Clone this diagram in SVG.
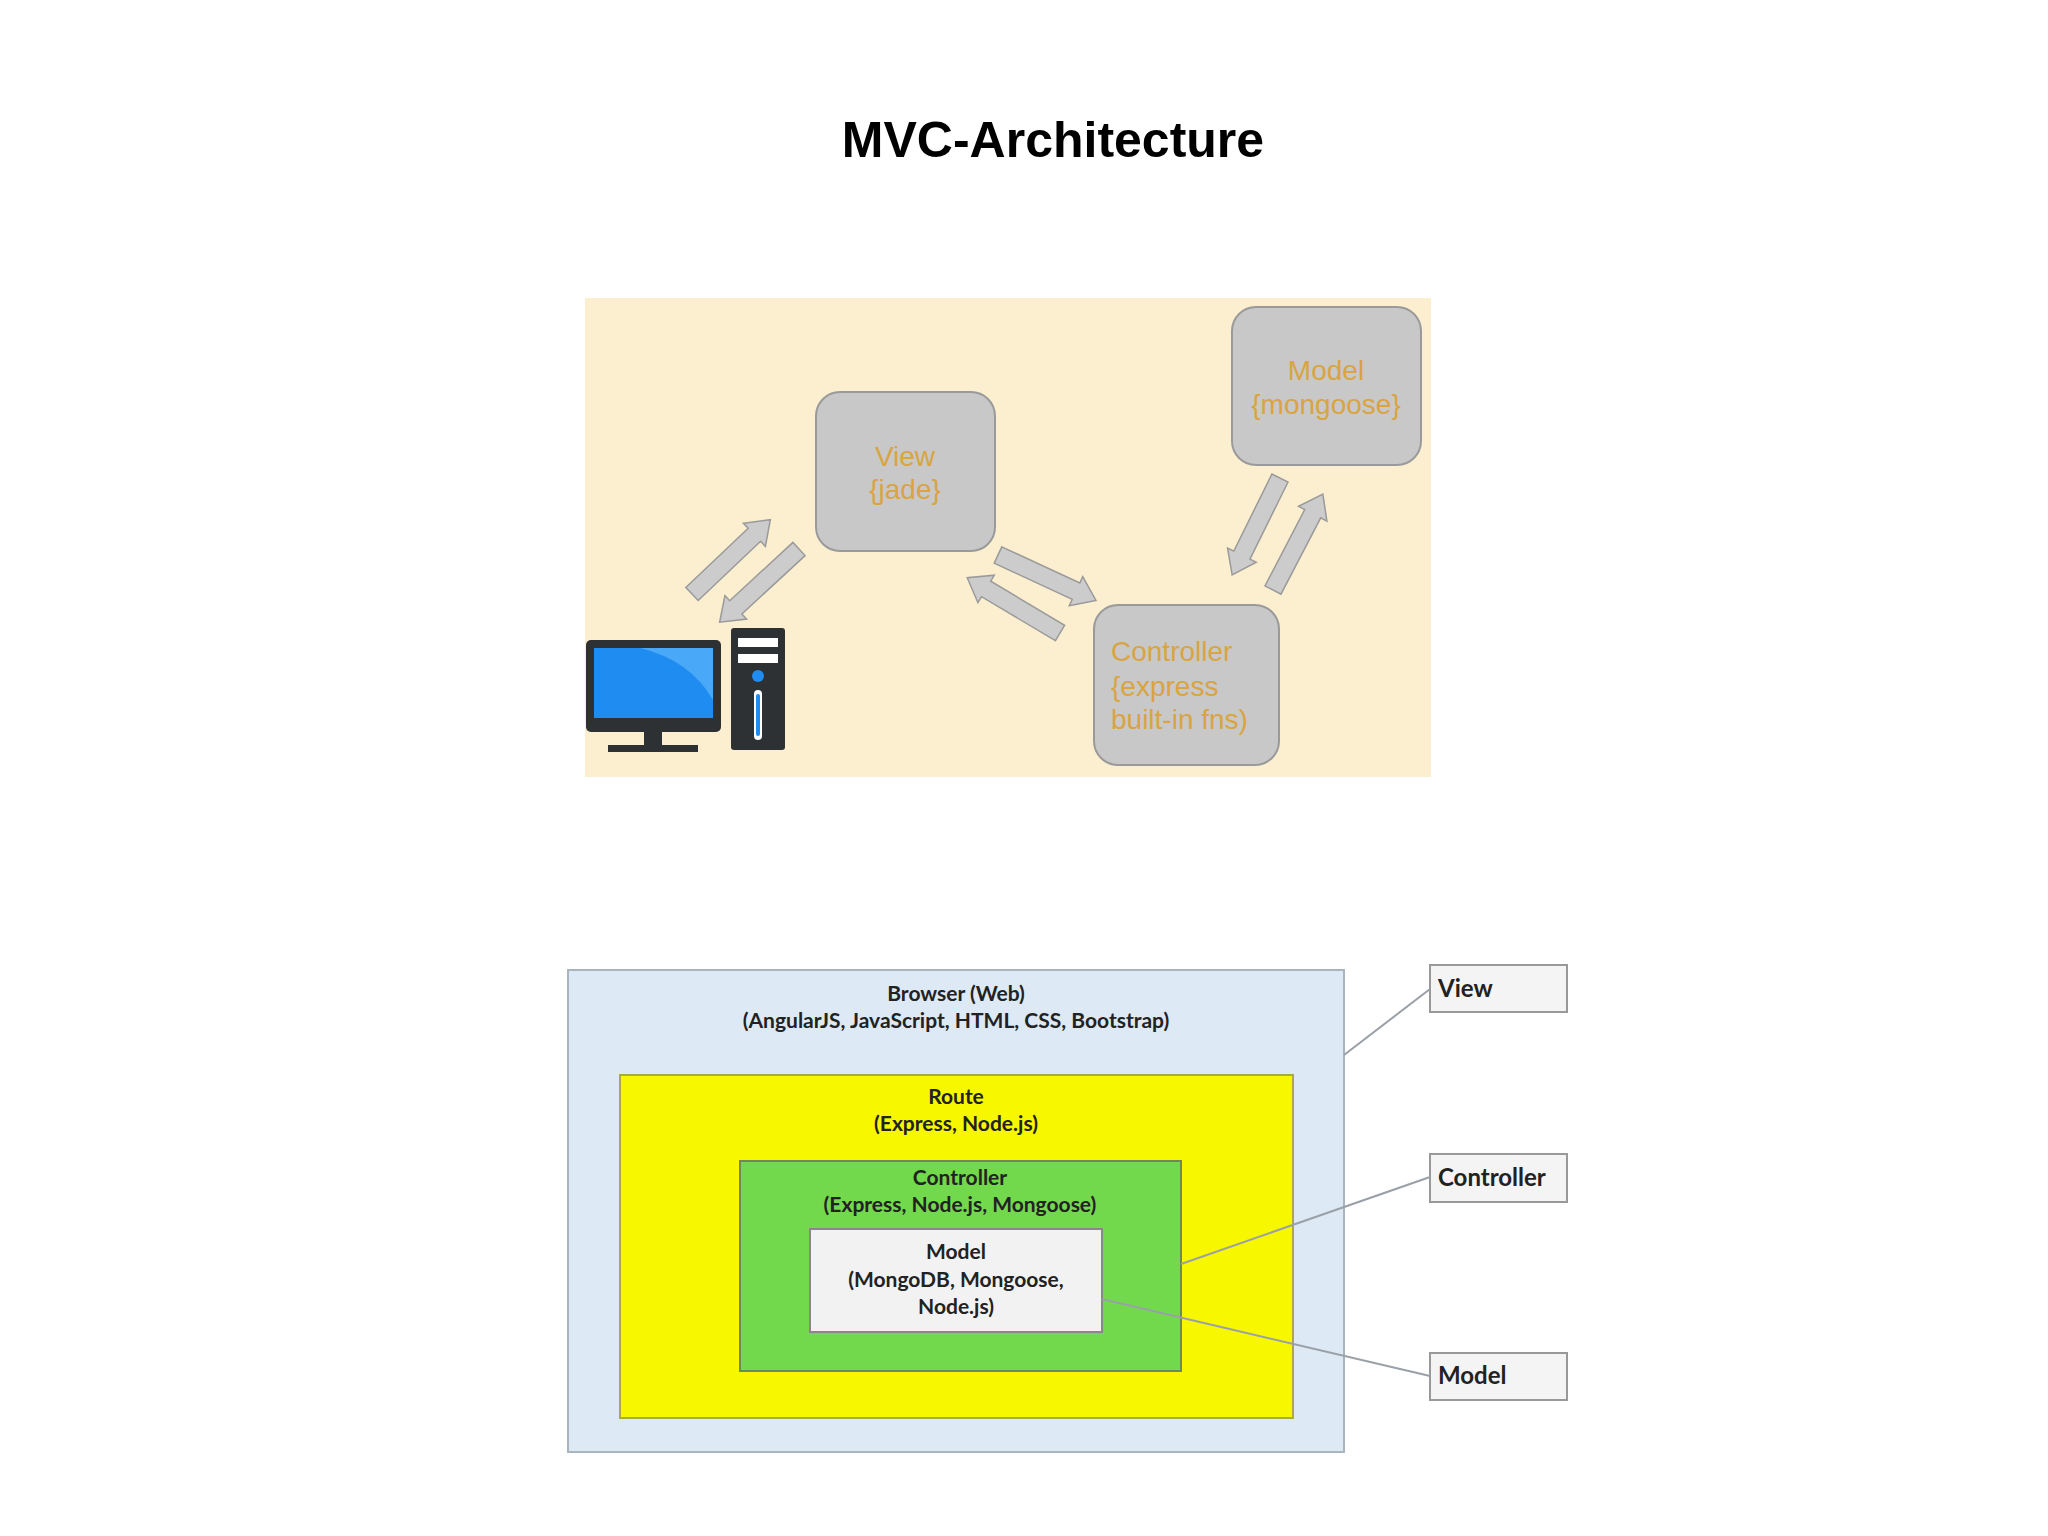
<svg xmlns="http://www.w3.org/2000/svg" width="2048" height="1536" viewBox="0 0 2048 1536">
<style>
.node{fill:#c8c8c8;stroke:#9a9a9a;stroke-width:2}
.ot{font-family:"Liberation Sans",Arial,sans-serif;font-size:28px;fill:#d9a441}
.bt{font-family:Lato,"Liberation Sans",sans-serif;font-weight:bold;font-size:21px;fill:#222;text-anchor:middle}
.lb{fill:#f4f4f4;stroke:#999;stroke-width:2}
.lt{font-family:Lato,"Liberation Sans",sans-serif;font-weight:bold;font-size:24px;fill:#222}
.ar{fill:#cccccc;stroke:#9a9a9a;stroke-width:1.5}
.ln{stroke:#9aa0a8;stroke-width:2;fill:none}
</style>
<defs>
<path id="barrow" class="ar" d="M0,-9 L86,-9 L86,-16 L108,0 L86,16 L86,9 L0,9 Z"/>
</defs>
<rect width="2048" height="1536" fill="#fff"/>
<text x="1053" y="157" text-anchor="middle" font-family="Liberation Sans,Arial,sans-serif" font-weight="bold" font-size="50">MVC-Architecture</text>

<g id="top-panel">
<rect x="585" y="298" width="846" height="479" fill="#fcefcf"/>
</g>
<g id="view"><rect class="node" x="816" y="392" width="179" height="159" rx="24"/>
<text class="ot" x="905" y="466" text-anchor="middle">View</text><text class="ot" x="905" y="499" text-anchor="middle">{jade}</text></g>
<g id="model"><rect class="node" x="1232" y="307" width="189" height="158" rx="24"/>
<text class="ot" x="1326" y="380" text-anchor="middle">Model</text><text class="ot" x="1326" y="414" text-anchor="middle">{mongoose}</text></g>
<g id="controller"><rect class="node" x="1094" y="605" width="185" height="160" rx="24"/>
<text class="ot" x="1111" y="661">Controller</text><text class="ot" x="1111" y="696">{express</text><text class="ot" x="1111" y="729">built-in fns)</text></g>
<g id="computer">
<rect x="586" y="640" width="135" height="92" rx="5" fill="#2e3133"/>
<rect x="594" y="648" width="119" height="70" fill="#1e8cf0"/>
<path d="M640,648 L713,648 L713,700 Q690,660 640,648 Z" fill="#4aa8f8"/>
<circle cx="653" cy="736" r="4" fill="#1e8cf0"/>
<rect x="644" y="732" width="18" height="14" fill="#2e3133"/>
<rect x="608" y="745" width="90" height="7" fill="#2e3133"/>
<rect x="731" y="628" width="54" height="122" rx="3" fill="#2e3133"/>
<rect x="738" y="638" width="40" height="9" fill="#fff"/>
<rect x="738" y="654" width="40" height="9" fill="#fff"/>
<circle cx="758" cy="676" r="6" fill="#1e8cf0"/>
<rect x="754" y="690" width="8" height="50" rx="4" fill="#fff"/>
<rect x="756" y="694" width="4" height="42" rx="2" fill="#1e8cf0"/>
</g>
<g id="connectors-top">
<use href="#barrow" transform="translate(692,594) rotate(-43.5)"/>
<use href="#barrow" transform="translate(799,549) rotate(137.3)"/>
<use href="#barrow" transform="translate(998,555) rotate(24.9)"/>
<use href="#barrow" transform="translate(1060,633) rotate(-149.2)"/>
<use href="#barrow" transform="translate(1280,478) rotate(116.3)"/>
<use href="#barrow" transform="translate(1273,590) rotate(-62.5)"/>
</g>

<g id="browser"><rect x="568" y="970" width="776" height="482" fill="#dde9f4" stroke="#a9b4bf" stroke-width="2"/>
<text class="bt" x="956" y="1001">Browser (Web)</text><text class="bt" x="956" y="1028">(AngularJS, JavaScript, HTML, CSS, Bootstrap)</text></g>
<g id="route"><rect x="620" y="1075" width="673" height="343" fill="#f7f700" stroke="#a9a94a" stroke-width="2"/>
<text class="bt" x="956" y="1104">Route</text><text class="bt" x="956" y="1131">(Express, Node.js)</text></g>
<g id="controller-box"><rect x="740" y="1161" width="441" height="210" fill="#73d94c" stroke="#6a8a5a" stroke-width="2"/>
<text class="bt" x="960" y="1185">Controller</text><text class="bt" x="960" y="1212">(Express, Node.js, Mongoose)</text></g>
<g id="model-box"><rect x="810" y="1229" width="292" height="103" fill="#f2f2f2" stroke="#888" stroke-width="2"/>
<text class="bt" x="956" y="1259">Model</text><text class="bt" x="956" y="1287">(MongoDB, Mongoose,</text><text class="bt" x="956" y="1314">Node.js)</text></g>
<g id="label-view"><rect class="lb" x="1430" y="965" width="137" height="47"/><text class="lt" x="1438" y="997">View</text></g>
<g id="label-controller"><rect class="lb" x="1430" y="1154" width="137" height="48"/><text class="lt" x="1438" y="1186">Controller</text></g>
<g id="label-model"><rect class="lb" x="1430" y="1353" width="137" height="47"/><text class="lt" x="1438" y="1384">Model</text></g>
<g id="connectors-bottom">
<line class="ln" x1="1344" y1="1055" x2="1430" y2="989"/>
<line class="ln" x1="1181" y1="1264" x2="1430" y2="1177"/>
<line class="ln" x1="1102" y1="1299" x2="1430" y2="1376"/>
</g>
</svg>
